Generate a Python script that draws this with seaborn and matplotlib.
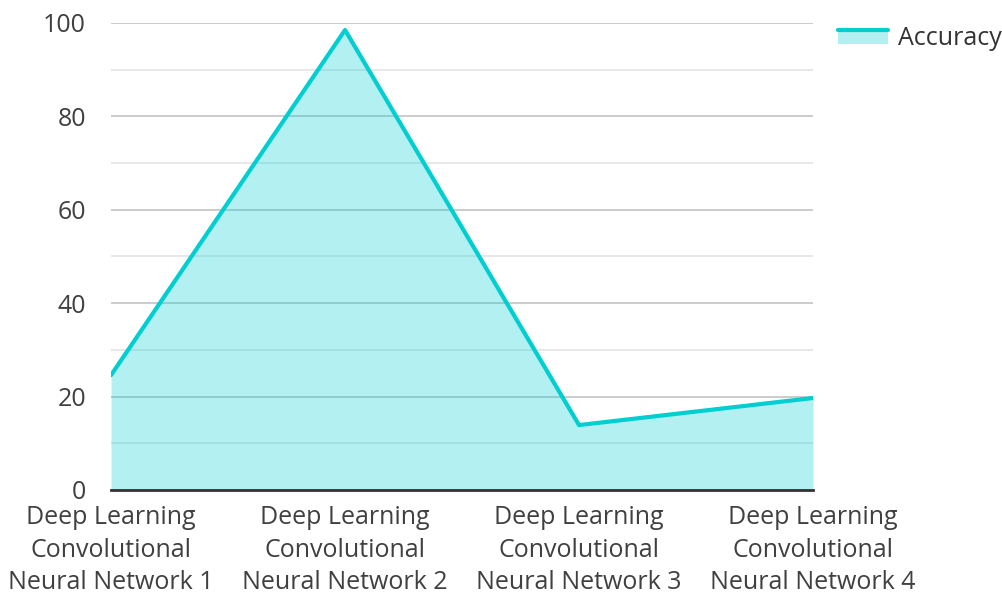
import numpy as np
import pandas as pd

import matplotlib
matplotlib.use("Agg")

import matplotlib.pyplot as plt
import seaborn as sns
from matplotlib.legend_handler import HandlerBase
from matplotlib.patches import Rectangle
from matplotlib.lines import Line2D

# données
models = [
    "Deep Learning\nConvolutional\nNeural Network 1",
    "Deep Learning\nConvolutional\nNeural Network 2",
    "Deep Learning\nConvolutional\nNeural Network 3",
    "Deep Learning\nConvolutional\nNeural Network 4",
]
accuracy = [24.6, 98.5, 13.9, 19.7]

LINE_COLOR = "#00CED1"
FILL_ALPHA = 0.3


class AreaHandler(HandlerBase):
    """Légende : bande remplie avec la ligne en haut."""
    def create_artists(self, legend, orig_handle, xdescent, ydescent,
                       width, height, fontsize, trans):
        rect = Rectangle((-xdescent, -ydescent), width, height,
                         facecolor=LINE_COLOR, alpha=FILL_ALPHA,
                         edgecolor="none", transform=trans)
        ytop = -ydescent + height - 1
        line = Line2D([-xdescent, -xdescent + width], [ytop, ytop],
                      color=LINE_COLOR, lw=3, transform=trans)
        return [rect, line]


sns.set_theme(style="white")
plt.rcParams["font.family"] = ["Open Sans", "DejaVu Sans"]

df = pd.DataFrame({"x": np.arange(len(models)), "acc": accuracy})

fig = plt.figure(figsize=(10.03, 5.94), dpi=100)
ax = fig.add_axes([0.1107, 0.1751, 0.6999, 0.7862])

ax.fill_between(df["x"], df["acc"], 0, color=LINE_COLOR, alpha=FILL_ALPHA,
                lw=0, zorder=2)
sns.lineplot(data=df, x="x", y="acc", ax=ax, color=LINE_COLOR, lw=3, zorder=3)

ax.set_xlim(0, len(models) - 1)
ax.set_ylim(0, 100)
ax.set_yticks(np.arange(0, 101, 20))
ax.set_yticks(np.arange(10, 100, 20), minor=True)
ax.grid(axis="y", which="major", color="#c8c8c8", lw=1.3)
ax.grid(axis="y", which="minor", color="#e6e6e6", lw=1.3)
ax.set_axisbelow(True)

ax.set_xticks(df["x"])
ax.set_xticklabels(models, fontsize=18, color="#404040", linespacing=1.4)
ax.tick_params(axis="y", labelsize=18, labelcolor="#404040", length=0, pad=18)
ax.tick_params(axis="x", length=0, pad=11)
ax.tick_params(axis="y", which="minor", length=0)
ax.set_xlabel("")
ax.set_ylabel("")

for s in ["top", "right", "left"]:
    ax.spines[s].set_visible(False)
ax.spines["bottom"].set_color("#333333")
ax.spines["bottom"].set_linewidth(2)
ax.spines["bottom"].set_zorder(4)

dummy = Rectangle((0, 0), 1, 1)
leg = ax.legend([dummy], ["Accuracy"], handler_map={Rectangle: AreaHandler()},
                loc="upper left", bbox_to_anchor=(1.021, 1.015), frameon=False,
                fontsize=18, handlelength=2.0, handleheight=0.6,
                handletextpad=0.4, borderaxespad=0)
for t in leg.get_texts():
    t.set_color("#333333")

plt.savefig("out.png", dpi=100)
plt.close()
